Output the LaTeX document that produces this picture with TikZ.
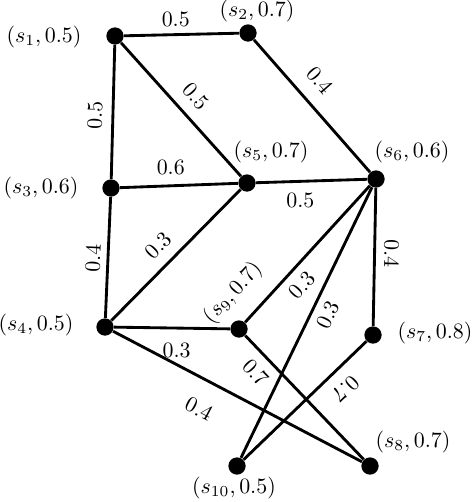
\documentclass[tikz,border=0pt]{standalone}
\begin{document}
\begin{tikzpicture}[x=0.4566pt,y=-0.4566pt,
  vert/.style={circle,fill=black,minimum size=7.9pt,inner sep=0pt},
  nlab/.style={inner sep=0pt},
  elab/.style={inner sep=0pt},
  edge/.style={line width=1.3pt}]
\useasboundingbox (0,0) rectangle (474,502);
% vertices
\node[vert] (s1) at (115,36) {};
\node[vert] (s2) at (248,33) {};
\node[vert] (s3) at (111,188) {};
\node[vert] (s4) at (105,327) {};
\node[vert] (s5) at (247,183) {};
\node[vert] (s6) at (376,179) {};
\node[vert] (s7) at (373,335) {};
\node[vert] (s8) at (370,466) {};
\node[vert] (s9) at (239,329) {};
\node[vert] (s10) at (237,466) {};
% vertex labels
\node[nlab] (l1) at (44,37) {$(s_1,0.5)$};
\node[nlab] (l2) at (257,11) {$(s_2,0.7)$};
\node[nlab] (l3) at (41,188) {$(s_3,0.6)$};
\node[nlab] (l4) at (36,325) {$(s_4,0.5)$};
\node[nlab] (l5) at (271,152) {$(s_5,0.7)$};
\node[nlab] (l6) at (412,152) {$(s_6,0.6)$};
\node[nlab] (l7) at (435,333) {$(s_7,0.8)$};
\node[nlab] (l8) at (413,442) {$(s_8,0.7)$};
\node[nlab,rotate=47] (l9) at (233,293) {$(s_9,0.7)$};
\node[nlab] (l10) at (234,488) {$(s_{10},0.5)$};
% edges
\draw[edge] (s1) -- node[elab,pos=0.45,above=2.7pt] (e12) {0.5} (s2);
\draw[edge] (s2) -- node[elab,sloped,pos=0.42,above=6.4pt] (e26) {0.4} (s6);
\draw[edge] (s3) -- node[elab,sloped,pos=0.47,above=4.1pt] (e13) {0.5} (s1);
\draw[edge] (s1) -- node[elab,sloped,pos=0.50,above=5pt] (e15) {0.5} (s5);
\draw[edge] (s3) -- node[elab,pos=0.43,above=4.1pt] (e35) {0.6} (s5);
\draw[edge] (s5) -- node[elab,pos=0.40,below=4.8pt] (e56) {0.5} (s6);
\draw[edge] (s4) -- node[elab,sloped,pos=0.49,above=2.7pt] (e34) {0.4} (s3);
\draw[edge] (s4) -- node[elab,sloped,pos=0.47,above=4.5pt] (e45) {0.3} (s5);
\draw[edge] (s4) -- node[elab,pos=0.54,below=5.9pt] (e49) {0.3} (s9);
\draw[edge] (s4) -- node[elab,sloped,pos=0.40,below=9.1pt] (e48) {0.4} (s8);
\draw[edge] (s9) -- node[elab,sloped,pos=0.20,below=4.1pt] (e98) {0.7} (s8);
\draw[edge] (s7) -- node[elab,sloped,allow upside down,pos=0.28,above=5pt] (e710) {0.7} (s10);
\draw[edge] (s9) -- node[elab,sloped,pos=0.355,below=3.8pt] (e96) {0.3} (s6);
\draw[edge] (s10) -- node[elab,sloped,pos=0.555,below=3.3pt] (e106) {0.3} (s6);
\draw[edge] (s6) -- node[elab,sloped,allow upside down,pos=0.47,above=3.6pt] (e67) {0.4} (s7);
\end{tikzpicture}
\end{document}
